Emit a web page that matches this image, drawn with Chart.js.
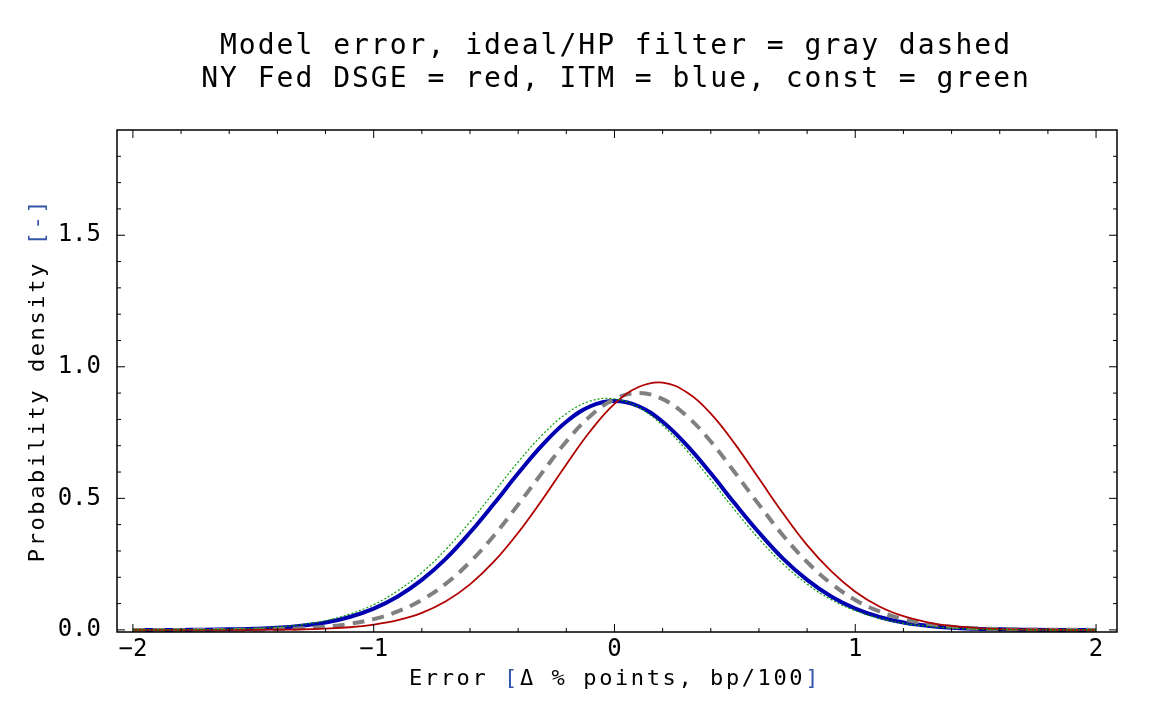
<!DOCTYPE html>
<html>
<head>
<meta charset="utf-8">
<script src="https://cdn.jsdelivr.net/npm/chart.js@4"></script>
<style>
  body { margin: 0; background: #fff; }
  #wrap { width: 1152px; height: 721px; }
</style>
</head>
<body>
<div id="wrap"><canvas id="grafico"></canvas></div>
<script>
// dados (passo 0.1 de -2 a 2)
const xs = [-2.0,-1.9,-1.8,-1.7,-1.6,-1.5,-1.4,-1.3,-1.2,-1.1,-1.0,-0.9,-0.8,-0.7,-0.6,-0.5,-0.4,-0.3,-0.2,-0.1,
            0.0,0.1,0.2,0.3,0.4,0.5,0.6,0.7,0.8,0.9,1.0,1.1,1.2,1.3,1.4,1.5,1.6,1.7,1.8,1.9,2.0];
const itmBlue = [0,0,0,0.001,0.002,0.004,0.008,0.016,0.028,0.049,0.081,0.127,0.190,0.271,0.370,0.480,0.595,0.702,0.791,0.850,
                 0.870,0.850,0.791,0.702,0.595,0.480,0.370,0.271,0.190,0.127,0.081,0.049,0.028,0.016,0.008,0.004,0.002,0.001,0,0,0];
const dsgeRed = [0,0,0,0,0,0.0004,0.001,0.002,0.005,0.010,0.020,0.037,0.065,0.109,0.173,0.260,0.369,0.495,0.629,0.756,
                 0.859,0.923,0.940,0.903,0.822,0.707,0.575,0.443,0.322,0.223,0.145,0.089,0.052,0.029,0.015,0.007,0.003,0.0015,0.0007,0.0003,0];
const hpGray = [0,0,0,0,0,0.001,0.003,0.006,0.012,0.023,0.041,0.070,0.114,0.176,0.258,0.359,0.476,0.598,0.716,0.813,
                0.877,0.900,0.877,0.813,0.716,0.598,0.476,0.359,0.258,0.176,0.114,0.070,0.041,0.023,0.012,0.006,0.003,0.001,0.0005,0.0002,0];
const constGreen = [0,0,0.0005,0.001,0.0026,0.0055,0.011,0.020,0.035,0.060,0.096,0.149,0.218,0.306,0.410,0.524,0.638,0.741,0.822,0.870,
                    0.878,0.846,0.777,0.682,0.570,0.455,0.346,0.251,0.174,0.115,0.073,0.044,0.025,0.014,0.007,0.003,0.0015,0.0005,0,0,0];

const xMajor = [-2, -1, 0, 1, 2];
const yMajor = [0, 0.5, 1.0, 1.5];
const titulo = ['Model error, ideal/HP filter = gray dashed', 'NY Fed DSGE = red, ITM = blue, const = green'];

const FONTE = "'DejaVu Sans Mono', monospace";
const pts = arr => xs.map((x, i) => ({ x: x, y: arr[i] }));

function serie(label, arr, cor, largura, tracejado) {
    return {
        label: label, data: pts(arr), borderColor: cor, borderWidth: largura,
        borderDash: tracejado || [], pointRadius: 0, tension: 0.4, fill: false
    };
}

// desenha moldura, marcas de escala e textos
const molduraPlugin = {
    id: 'moldura',
    afterDraw(chart) {
        const ctx = chart.ctx, a = chart.chartArea;
        const sx = chart.scales.x, sy = chart.scales.y;
        ctx.save();
        ctx.strokeStyle = '#000';
        ctx.lineWidth = 1.5;
        ctx.strokeRect(a.left, a.top, a.right - a.left, a.bottom - a.top);

        ctx.lineWidth = 1;
        for (let v = -2; v <= 2.001; v += 0.2) {
            const px = sx.getPixelForValue(v);
            const maior = Math.abs(v - Math.round(v)) < 1e-6;
            const t = maior ? 8 : 4;
            ctx.beginPath();
            ctx.moveTo(px, a.bottom); ctx.lineTo(px, a.bottom - t);
            ctx.moveTo(px, a.top); ctx.lineTo(px, a.top + t);
            ctx.stroke();
        }
        for (let v = 0; v <= 1.85; v += 0.1) {
            const py = sy.getPixelForValue(v);
            const maior = Math.abs(v * 2 - Math.round(v * 2)) < 1e-6;
            const t = maior ? 8 : 4;
            ctx.beginPath();
            ctx.moveTo(a.left, py); ctx.lineTo(a.left + t, py);
            ctx.moveTo(a.right, py); ctx.lineTo(a.right - t, py);
            ctx.stroke();
        }

        // título
        ctx.fillStyle = '#000';
        ctx.textAlign = 'center';
        ctx.textBaseline = 'middle';
        ctx.font = '28px ' + FONTE;
        ctx.letterSpacing = '2px';
        ctx.fillText(titulo[0], 616, 47);
        ctx.fillText(titulo[1], 616, 80);

        // rótulos dos eixos com colchetes em azul
        ctx.font = '22px ' + FONTE;
        ctx.letterSpacing = '2.6px';
        const partes = (segs, cx, cy, rot) => {
            ctx.save();
            ctx.translate(cx, cy);
            if (rot) ctx.rotate(-Math.PI / 2);
            const total = segs.reduce((s, p) => s + ctx.measureText(p[0]).width, 0);
            let x = -total / 2;
            ctx.textAlign = 'left';
            segs.forEach(p => {
                ctx.fillStyle = p[1];
                ctx.fillText(p[0], x, 0);
                x += ctx.measureText(p[0]).width;
            });
            ctx.restore();
        };
        partes([['Error ', '#000'], ['[', '#3355aa'], ['Δ % points, bp/100', '#000'], [']', '#3355aa']], 615, 679, false);
        partes([['Probability density ', '#000'], ['[-]', '#3355aa']], 38, 380, true);
        ctx.restore();
    }
};

new Chart(document.getElementById('grafico'), {
    type: 'line',
    data: {
        datasets: [
            serie('const', constGreen, '#00a000', 1.2, [2, 2]),
            serie('NY Fed DSGE', dsgeRed, '#b00000', 1.8),
            serie('ideal/HP filter', hpGray, '#808080', 4, [12, 8]),
            serie('ITM', itmBlue, '#0000b0', 4)
        ]
    },
    options: {
        responsive: true,
        maintainAspectRatio: false,
        animation: false,
        layout: { padding: { left: 0, right: 35, top: 130, bottom: 0 } },
        plugins: { legend: { display: false }, tooltip: { enabled: false } },
        scales: {
            x: {
                type: 'linear', min: -2.066, max: 2.087,
                grid: { display: false }, border: { display: false },
                afterBuildTicks: s => { s.ticks = xMajor.map(v => ({ value: v })); },
                afterFit: s => { s.height = 89; },
                ticks: {
                    color: '#000', padding: -5,
                    font: { family: FONTE, size: 24 },
                    callback: v => (v < 0 ? '\u2212' + Math.abs(v) : String(v))
                }
            },
            y: {
                type: 'linear', min: -0.008, max: 1.9,
                grid: { display: false }, border: { display: false },
                afterBuildTicks: s => { s.ticks = yMajor.map(v => ({ value: v })); },
                afterFit: s => { s.width = 117; },
                ticks: {
                    color: '#000', padding: 8,
                    font: { family: FONTE, size: 24 },
                    callback: v => v.toFixed(1)
                }
            }
        }
    },
    plugins: [molduraPlugin]
});
</script>
</body>
</html>
